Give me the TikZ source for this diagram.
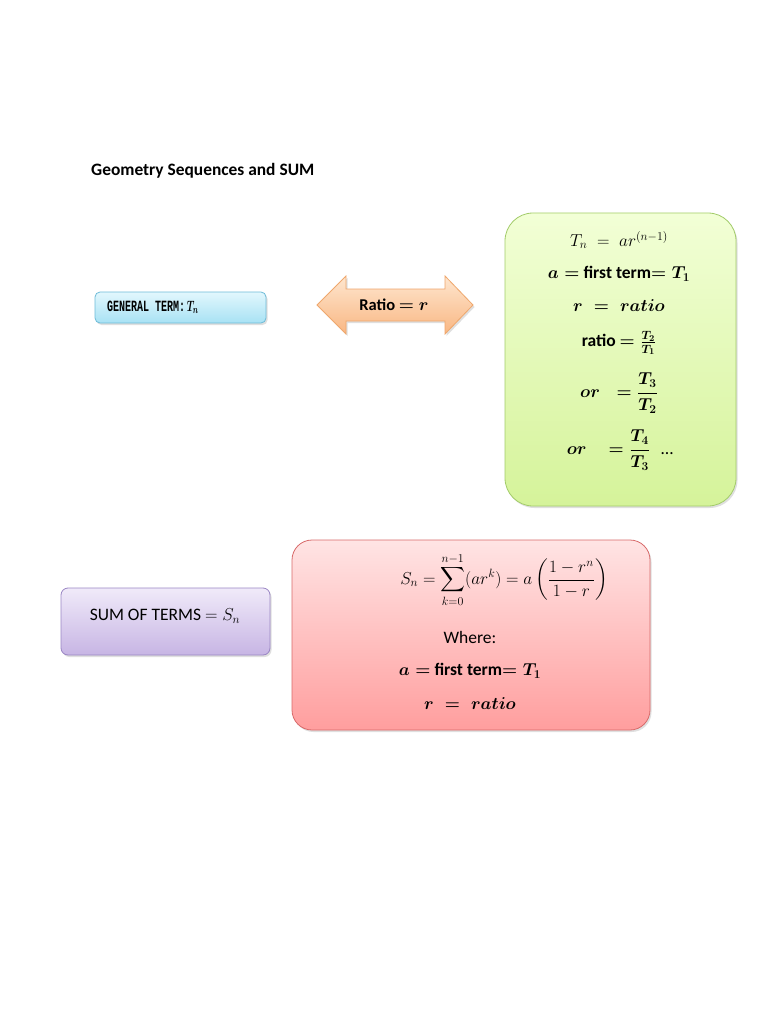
\documentclass[tikz,border=0pt]{standalone}
\usepackage{amsmath}
\usepackage{bm}
\usepackage{fontspec}
\setmainfont{Carlito}
\newfontfamily\gtfont{Liberation Mono}
\usetikzlibrary{shadows}
\definecolor{cyanA}{HTML}{E2F7FD}
\definecolor{cyanB}{HTML}{A8E2F4}
\definecolor{cyanL}{HTML}{6DBBD8}
\definecolor{peachA}{HTML}{FEE6CF}
\definecolor{peachB}{HTML}{F9B783}
\definecolor{peachL}{HTML}{EFA76C}
\definecolor{greenA}{HTML}{F2FFD6}
\definecolor{greenB}{HTML}{D5F39A}
\definecolor{greenL}{HTML}{A3CC6A}
\definecolor{purpA}{HTML}{F0EAF9}
\definecolor{purpB}{HTML}{C7B5E4}
\definecolor{purpL}{HTML}{9A86C4}
\definecolor{redA}{HTML}{FFE4E4}
\definecolor{redB}{HTML}{FF9E9E}
\definecolor{redL}{HTML}{D86A6A}
\tikzset{
  shad/.style={drop shadow={shadow xshift=1.5pt,shadow yshift=-2pt,opacity=0.25}},
  txt/.style={inner sep=0pt,anchor=center,font=\fontsize{17.5}{20}\selectfont},
  btxt/.style={txt,font=\fontsize{17.5}{20}\selectfont\bfseries\boldmath},
  mtxt/.style={txt,font=\fontsize{17.5}{20}\selectfont\boldmath},
}
\begin{document}
\begin{tikzpicture}[x=1pt,y=-1pt]
\useasboundingbox[fill=white] (0,0) rectangle (768,1024);
% title
\node[anchor=base west,inner sep=0pt,font=\fontsize{17.4}{20}\selectfont\bfseries] (title) at (91,176) {Geometry Sequences and SUM};
% general term box
\draw[shad,rounded corners=5pt,top color=cyanA,bottom color=cyanB,draw=cyanL,line width=0.8pt] (95,292) rectangle (266,323);
\node[inner sep=0pt,anchor=west] (gt) at (107,307.5) {\scalebox{0.8}[1.25]{\gtfont\bfseries\fontsize{12.5}{14}\selectfont GENERAL TERM:\,$\bm{T_n}$}};
% double arrow
\draw[shad,top color=peachA,bottom color=peachB,draw=peachL,line width=0.8pt,line join=miter]
  (317,305) -- (346,276) -- (346,289) -- (445,289) -- (445,276) -- (473,305)
  -- (445,334) -- (445,321) -- (346,321) -- (346,334) -- cycle;
\node[txt,font=\fontsize{16.5}{19}\selectfont\bfseries] (ratio) at (394,305) {Ratio $\bm{=r}$};
% green box
\draw[shad,rounded corners=28pt,top color=greenA,bottom color=greenB,draw=greenL,line width=0.8pt] (505,213) rectangle (736,506);
\node[txt] (g1) at (619,240) {$T_n\;=\;ar^{(n-1)}$};
\node[btxt] (g2) at (619,274) {$a=$ first term$=T_1$};
\node[mtxt] (g3) at (619,306) {$r\;=\;ratio$};
\node[btxt] (g4) at (619,343) {ratio $=\frac{T_2}{T_1}$};
\node[mtxt] (g5) at (619,393) {$or\;\;=\dfrac{T_3}{T_2}$};
\node[mtxt] (g6) at (620,450) {$or\;\;\;=\dfrac{T_4}{T_3}\;\;$…};
% purple box
\draw[shad,rounded corners=7pt,top color=purpA,bottom color=purpB,draw=purpL,line width=0.8pt] (61,588) rectangle (270,655);
\node[txt] (sum) at (165,616) {SUM OF TERMS $=S_n$};
% red box
\draw[shad,rounded corners=20pt,top color=redA,bottom color=redB,draw=redL,line width=0.8pt] (292,540) rectangle (650,730);
\node[txt] (r1) at (504,580) {$\displaystyle S_n=\sum_{k=0}^{n-1}(ar^k)=a\left(\frac{1-r^n}{1-r}\right)$};
\node[txt] (r2) at (470,637) {Where:};
\node[btxt] (r3) at (470,671) {$a=$ first term$=T_1$};
\node[mtxt] (r4) at (470,704) {$r\;=\;ratio$};
\end{tikzpicture}
\end{document}
